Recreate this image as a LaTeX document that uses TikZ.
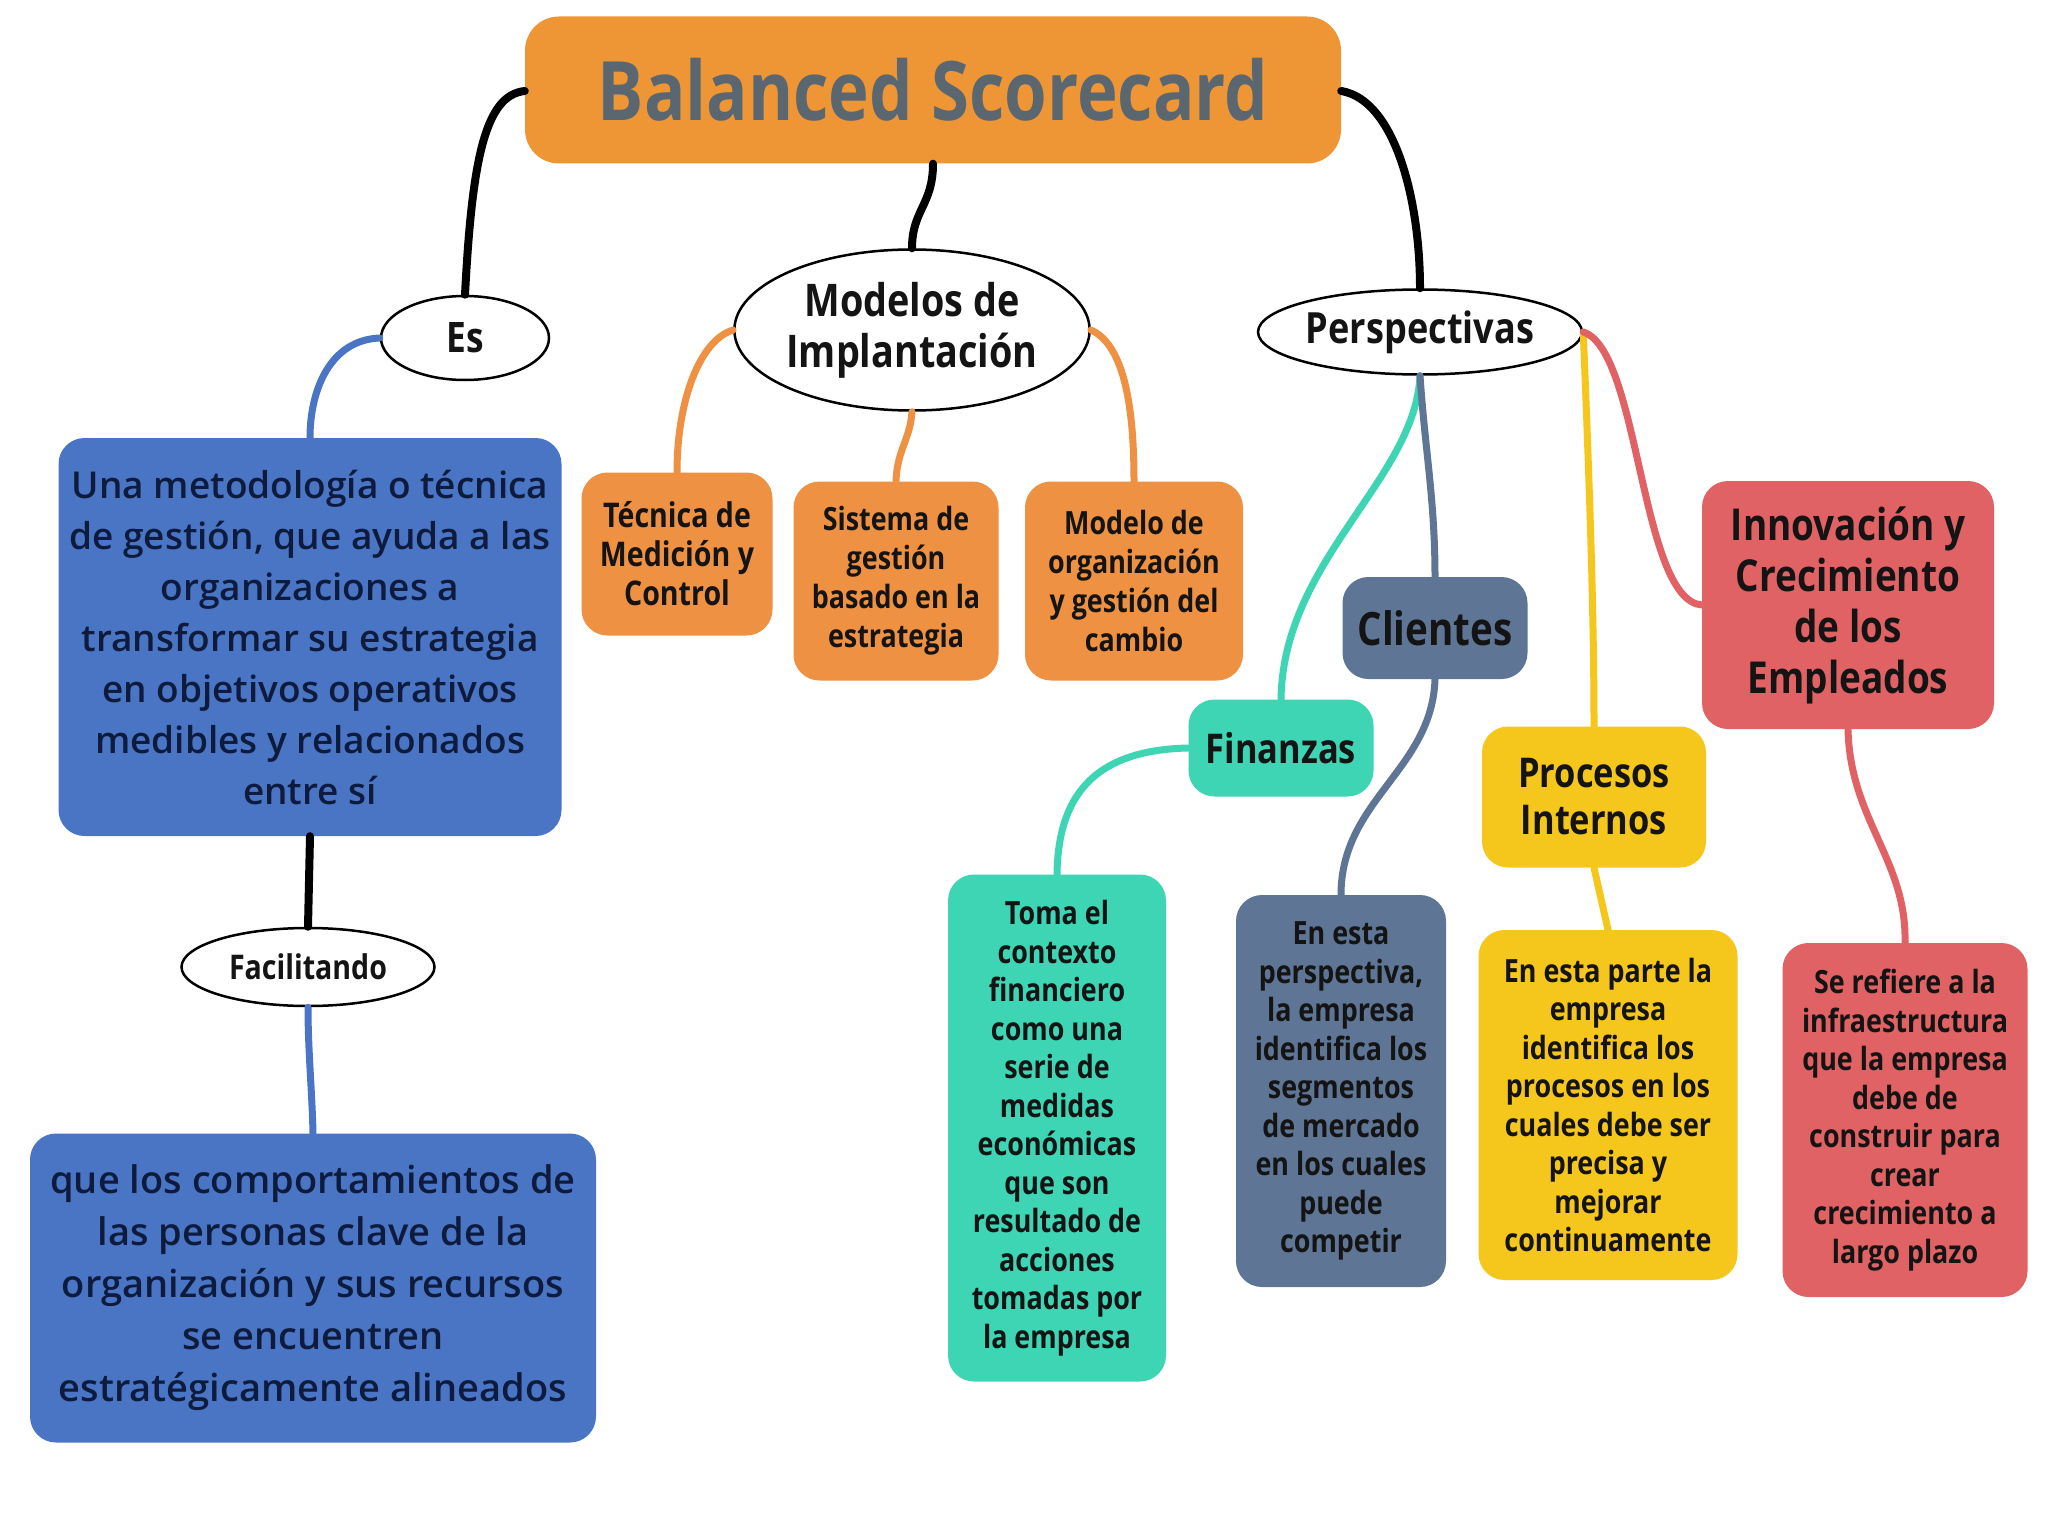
\documentclass[tikz,border=0pt]{standalone}
\usepackage{fontspec}
\setmainfont{Open Sans}
\newfontfamily\condb{Open Sans}[FakeStretch=0.84]
\IfFontExistsTF{Open Sans SemiBold}{\newfontfamily\semib{Open Sans SemiBold}}{%
  \IfFontExistsTF{Open Sans Semibold}{\newfontfamily\semib{Open Sans Semibold}}{%
    \newfontfamily\semib{Open Sans}[FakeBold=4]}}
\usetikzlibrary{shapes.geometric}
\definecolor{cTitle}{HTML}{EE9636}
\definecolor{cTitleTxt}{HTML}{5B6770}
\definecolor{cBlue}{HTML}{4A75C5}
\definecolor{cNavy}{HTML}{0E1B3C}
\definecolor{cOrange}{HTML}{EE9143}
\definecolor{cTeal}{HTML}{3DD5B4}
\definecolor{cSlate}{HTML}{5F7595}
\definecolor{cYellow}{HTML}{F5C71C}
\definecolor{cRed}{HTML}{E06264}
\definecolor{cTxt}{HTML}{141414}
\tikzset{
  box/.style={rounded corners=26pt, inner sep=0pt, align=center, text=cTxt},
  oval/.style={ellipse, draw=black, line width=2.5pt, fill=white, inner sep=0pt, align=center, text=cTxt},
  link/.style={line width=7pt, line cap=round},
  blink/.style={line width=8pt, line cap=round, draw=black},
}
\begin{document}
\begin{tikzpicture}[x=1pt,y=-1pt]
\useasboundingbox (0,0) rectangle (2048,1536);
\fill[white] (0,0) rectangle (2048,1536);

% nodes
\node[box, fill=cTitle, rounded corners=34pt, minimum width=816pt, minimum height=147pt, text=cTitleTxt,
  font={\condb\bfseries\fontsize{82}{96}\selectfont}] (title) at (933,90) {Balanced Scorecard};

\node[oval, minimum width=168pt, minimum height=84pt, font={\condb\bfseries\fontsize{42}{50}\selectfont}] (es) at (465,338) {Es};
\node[oval, minimum width=342pt, minimum height=161pt, font={\condb\bfseries\fontsize{45}{51}\selectfont}] (mod) at (912,330) {Modelos de\\Implantación};
\node[oval, minimum width=324pt, minimum height=85pt, font={\condb\bfseries\fontsize{43}{50}\selectfont}] (per) at (1420,332) {Perspectivas};
\node[oval, minimum width=253pt, minimum height=78pt, font={\condb\bfseries\fontsize{34}{40}\selectfont}] (fac) at (308,967) {Facilitando};

\node[box, fill=cBlue, text=cNavy, minimum width=503pt, minimum height=398pt, font={\semib\fontsize{37}{51}\selectfont}] (b1) at (310,637)
  {Una metodología o técnica\\de gestión, que ayuda a las\\organizaciones a\\transformar su estrategia\\en objetivos operativos\\medibles y relacionados\\entre sí};
\node[box, fill=cBlue, text=cNavy, minimum width=566pt, minimum height=309pt, font={\semib\fontsize{38}{52}\selectfont}] (b2) at (313,1288)
  {que los comportamientos de\\las personas clave de la\\organización y sus recursos\\se encuentren\\estratégicamente alineados};

\node[box, fill=cOrange, minimum width=191pt, minimum height=163pt, font={\condb\bfseries\fontsize{34}{39}\selectfont}] (tec) at (677,554) {Técnica de\\Medición y\\Control};
\node[box, fill=cOrange, minimum width=205pt, minimum height=199pt, font={\condb\bfseries\fontsize{32}{39}\selectfont}] (sis) at (896,581) {Sistema de\\gestión\\basado en la\\estrategia};
\node[box, fill=cOrange, minimum width=218pt, minimum height=199pt, font={\condb\bfseries\fontsize{32}{39}\selectfont}] (org) at (1134,581) {Modelo de\\organización\\y gestión del\\cambio};

\node[box, fill=cSlate, minimum width=185pt, minimum height=102pt, font={\condb\bfseries\fontsize{46}{52}\selectfont}] (cli) at (1435,628) {Clientes};
\node[box, fill=cTeal, minimum width=185pt, minimum height=97pt, font={\condb\bfseries\fontsize{41}{48}\selectfont}] (fin) at (1281,748) {Finanzas};
\node[box, fill=cYellow, minimum width=224pt, minimum height=141pt, font={\condb\bfseries\fontsize{41}{47}\selectfont}] (pro) at (1594,797) {Procesos\\Internos};
\node[box, fill=cRed, minimum width=292pt, minimum height=248pt, font={\condb\bfseries\fontsize{44}{51}\selectfont}] (inn) at (1848,605) {Innovación y\\Crecimiento\\de los\\Empleados};

\node[box, fill=cTeal, minimum width=218pt, minimum height=507pt, font={\condb\bfseries\fontsize{32}{38.5}\selectfont}] (toma) at (1057,1128)
  {Toma el\\contexto\\financiero\\como una\\serie de\\medidas\\económicas\\que son\\resultado de\\acciones\\tomadas por\\la empresa};
\node[box, fill=cSlate, minimum width=210pt, minimum height=392pt, font={\condb\bfseries\fontsize{32}{38.5}\selectfont}] (ecl) at (1341,1091)
  {En esta\\perspectiva,\\la empresa\\identifica los\\segmentos\\de mercado\\en los cuales\\puede\\competir};
\node[box, fill=cYellow, minimum width=259pt, minimum height=350pt, font={\condb\bfseries\fontsize{32}{38.5}\selectfont}] (epr) at (1608,1105)
  {En esta parte la\\empresa\\identifica los\\procesos en los\\cuales debe ser\\precisa y\\mejorar\\continuamente};
\node[box, fill=cRed, minimum width=245pt, minimum height=354pt, font={\condb\bfseries\fontsize{32}{38.5}\selectfont}] (sre) at (1905,1120)
  {Se refiere a la\\infraestructura\\que la empresa\\debe de\\construir para\\crear\\crecimiento a\\largo plazo};

% connectors
\draw[blink] ([yshift=-1pt]title.west) .. controls (485,95) and (472,160) .. (es.north);
\draw[blink] (title.south) .. controls (933,205) and (912,210) .. (mod.north);
\draw[blink] ([yshift=-1pt]title.east) .. controls (1395,100) and (1420,200) .. (per.north);

\draw[link, draw=cBlue] (es.west) .. controls (330,340) and (310,390) .. (b1.north);
\draw[blink] (b1.south) -- (fac.north);
\draw[link, draw=cBlue] (fac.south) .. controls (308,1050) and (312,1090) .. (b2.north);

\draw[link, draw=cOrange] (mod.west) .. controls (700,340) and (677,400) .. (tec.north);
\draw[link, draw=cOrange] (mod.south) .. controls (910,440) and (897,450) .. (sis.north);
\draw[link, draw=cOrange] (mod.east) .. controls (1125,345) and (1134,410) .. (org.north);

\draw[link, draw=cTeal] (per.south) .. controls (1415,480) and (1283,560) .. (fin.north);
\draw[link, draw=cSlate] (per.south) .. controls (1425,450) and (1435,500) .. (cli.north);
\draw[link, draw=cYellow] (per.east) .. controls (1588,450) and (1594,600) .. (pro.north);
\draw[link, draw=cRed] (per.east) .. controls (1640,350) and (1640,600) .. (inn.west);

\draw[link, draw=cTeal] (fin.west) .. controls (1090,750) and (1058,800) .. (toma.north);
\draw[link, draw=cSlate] (cli.south) .. controls (1432,770) and (1341,800) .. (ecl.north);
\draw[link, draw=cYellow] (pro.south) -- (epr.north);
\draw[link, draw=cRed] (inn.south) .. controls (1850,820) and (1907,860) .. (sre.north);
\end{tikzpicture}
\end{document}
